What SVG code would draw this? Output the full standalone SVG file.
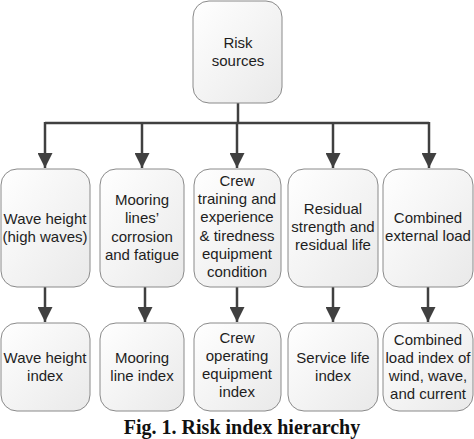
<svg xmlns="http://www.w3.org/2000/svg" width="474" height="439" viewBox="0 0 474 439">
<defs>
<linearGradient id="g" x1="0" y1="0" x2="1" y2="1">
<stop offset="0" stop-color="#ffffff"/>
<stop offset="1" stop-color="#e9e9e9"/>
</linearGradient>
<marker id="ah" markerWidth="15" markerHeight="15" refX="15" refY="7.5" orient="auto" markerUnits="userSpaceOnUse" viewBox="0 0 15 15">
<path d="M0,0 L15,7.5 L0,15 Z" fill="#404040"/>
</marker>
<style>
.box{fill:url(#g);stroke:#8a8a8a;stroke-width:1;}
.t{font-family:"Liberation Sans",Arial,sans-serif;font-size:15px;fill:#1e1e1e;text-anchor:middle;}
.c{stroke:#404040;stroke-width:2.5;fill:none;}
.cap{font-family:"Liberation Serif","Times New Roman",serif;font-size:20px;font-weight:bold;fill:#111;text-anchor:middle;}
</style>
</defs>
<g id="connectors">
<path class="c" d="M238,103 V123"/>
<path class="c" d="M45,123 H429"/>
<path class="c" d="M45,122 V168" marker-end="url(#ah)"/>
<path class="c" d="M142,123 V168" marker-end="url(#ah)"/>
<path class="c" d="M237,123 V168" marker-end="url(#ah)"/>
<path class="c" d="M333,123 V168" marker-end="url(#ah)"/>
<path class="c" d="M429,122 V168" marker-end="url(#ah)"/>
<path class="c" d="M45,287 V322" marker-end="url(#ah)"/>
<path class="c" d="M145,287 V322" marker-end="url(#ah)"/>
<path class="c" d="M237,287 V322" marker-end="url(#ah)"/>
<path class="c" d="M333,287 V322" marker-end="url(#ah)"/>
<path class="c" d="M428,287 V322" marker-end="url(#ah)"/>
</g>
<g id="risk-sources">
<rect class="box" x="193" y="1" width="89" height="102" rx="16"/>
<text class="t" x="238" y="48">Risk</text>
<text class="t" x="238" y="66">sources</text>
</g>
<g id="wave-height">
<rect class="box" x="1" y="169" width="89" height="118" rx="16"/>
<text class="t" x="45" y="224">Wave height</text>
<text class="t" x="45" y="242">(high waves)</text>
</g>
<g id="mooring-lines">
<rect class="box" x="100" y="169" width="84" height="118" rx="16"/>
<text class="t" x="142" y="205">Mooring</text>
<text class="t" x="142" y="223">lines’</text>
<text class="t" x="142" y="242">corrosion</text>
<text class="t" x="142" y="260">and fatigue</text>
</g>
<g id="crew-training">
<rect class="box" x="194" y="169" width="87" height="118" rx="16"/>
<text class="t" x="237" y="186">Crew</text>
<text class="t" x="237" y="204">training and</text>
<text class="t" x="237" y="222">experience</text>
<text class="t" x="237" y="241">&amp; tiredness</text>
<text class="t" x="237" y="259">equipment</text>
<text class="t" x="237" y="277">condition</text>
</g>
<g id="residual-strength">
<rect class="box" x="288" y="169" width="90" height="118" rx="16"/>
<text class="t" x="333" y="214">Residual</text>
<text class="t" x="333" y="232">strength and</text>
<text class="t" x="333" y="250">residual life</text>
</g>
<g id="combined-load">
<rect class="box" x="383" y="169" width="90" height="118" rx="16"/>
<text class="t" x="428" y="223">Combined</text>
<text class="t" x="428" y="241">external load</text>
</g>
<g id="wave-height-index">
<rect class="box" x="1" y="323" width="89" height="88" rx="16"/>
<text class="t" x="45" y="363">Wave height</text>
<text class="t" x="45" y="381">index</text>
</g>
<g id="mooring-line-index">
<rect class="box" x="100" y="323" width="84" height="88" rx="16"/>
<text class="t" x="142" y="363">Mooring</text>
<text class="t" x="142" y="381">line index</text>
</g>
<g id="crew-operating">
<rect class="box" x="194" y="323" width="87" height="88" rx="16"/>
<text class="t" x="237" y="343">Crew</text>
<text class="t" x="237" y="361">operating</text>
<text class="t" x="237" y="379">equipment</text>
<text class="t" x="237" y="397">index</text>
</g>
<g id="service-life-index">
<rect class="box" x="288" y="323" width="90" height="88" rx="16"/>
<text class="t" x="333" y="363">Service life</text>
<text class="t" x="333" y="381">index</text>
</g>
<g id="combined-load-index">
<rect class="box" x="383" y="323" width="90" height="88" rx="16"/>
<text class="t" x="428" y="345">Combined</text>
<text class="t" x="428" y="363">load index of</text>
<text class="t" x="428" y="381">wind, wave,</text>
<text class="t" x="428" y="399">and current</text>
</g>
<text class="cap" x="242" y="434">Fig. 1. Risk index hierarchy</text>
</svg>
